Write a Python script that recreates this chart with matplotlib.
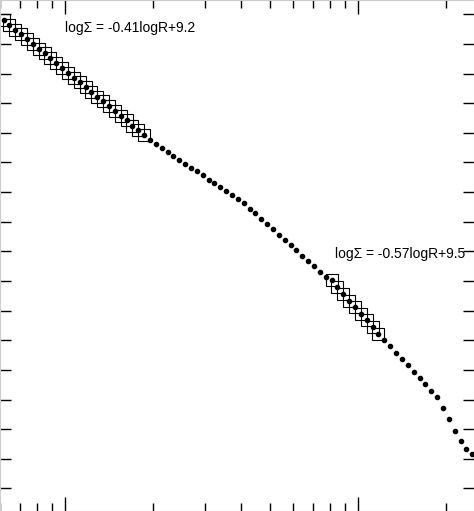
import matplotlib
matplotlib.use("Agg")
import matplotlib.pyplot as plt
import numpy as np
from matplotlib.ticker import LogLocator, MultipleLocator, NullFormatter

# radial profile: log R and log surface density
log_r = [-0.21, -0.19, -0.17, -0.15, -0.13, -0.11, -0.09, -0.07, -0.05, -0.03,
         -0.01, 0.01, 0.03, 0.05, 0.07, 0.09, 0.11, 0.13, 0.15, 0.17,
         0.19, 0.21, 0.23, 0.25, 0.27, 0.29, 0.31, 0.33, 0.35, 0.37,
         0.39, 0.41, 0.43, 0.45, 0.47, 0.49, 0.51, 0.53, 0.55, 0.57,
         0.59, 0.61, 0.63, 0.65, 0.67, 0.69, 0.71, 0.73, 0.75, 0.77,
         0.79, 0.81, 0.83, 0.85, 0.87, 0.89, 0.91, 0.93, 0.95, 0.97,
         0.99, 1.01, 1.03, 1.05, 1.07, 1.09, 1.11, 1.13, 1.15, 1.17,
         1.19, 1.21, 1.23, 1.25, 1.27, 1.29, 1.31, 1.33, 1.35, 1.37, 1.39]
log_sigma = [9.290, 9.282, 9.274, 9.266, 9.258, 9.250, 9.242, 9.234, 9.226, 9.218,
             9.209, 9.201, 9.193, 9.185, 9.177, 9.169, 9.161, 9.153, 9.145, 9.137,
             9.129, 9.121, 9.112, 9.104, 9.096, 9.088,
             9.081, 9.074, 9.068, 9.061, 9.054, 9.048, 9.041, 9.035, 9.028, 9.021,
             9.015, 9.008, 9.002, 8.995, 8.988,
             8.981, 8.972, 8.964, 8.955, 8.946, 8.937, 8.928, 8.919, 8.910, 8.902,
             8.893, 8.884, 8.875, 8.866, 8.857,
             8.851, 8.840, 8.828, 8.817, 8.806, 8.795, 8.784, 8.773, 8.761,
             8.751, 8.740, 8.729, 8.718, 8.708, 8.697, 8.686, 8.676, 8.665, 8.654,
             8.636, 8.618, 8.597, 8.580, 8.567, 8.558]
# points used in the two fits
fit_inner = list(range(0, 25))
fit_outer = list(range(56, 65))

r = 10 ** np.array(log_r)
s = np.array(log_sigma)

fig = plt.figure(figsize=(4.74, 5.11), dpi=100)
ax = fig.add_axes([0, 0, 1, 1])
ax.set_xscale("log")

ax.plot(r, s, "o", color="black", markersize=3, linestyle="none")
for idx in (fit_inner, fit_outer):
    ax.plot(r[idx], s[idx], "s", markerfacecolor="none", markeredgecolor="black",
            markersize=8, markeredgewidth=0.8, linestyle="none")

ax.text(1.0, 9.270, "logΣ = -0.41logR+9.2", fontsize=10, family="Liberation Sans")
ax.text(8.35, 8.888, "logΣ = -0.57logR+9.5", fontsize=10, family="Liberation Sans")

ax.set_xlim(10 ** -0.222, 10 ** 1.396)
ax.set_ylim(8.462, 9.324)
ax.yaxis.set_major_locator(MultipleLocator(0.05))
ax.xaxis.set_major_locator(LogLocator(base=10))
ax.xaxis.set_minor_locator(LogLocator(base=10, subs=np.arange(2, 10)))
ax.xaxis.set_major_formatter(NullFormatter())
ax.xaxis.set_minor_formatter(NullFormatter())
ax.yaxis.set_major_formatter(NullFormatter())
ax.tick_params(which="both", direction="in", top=True, right=True, width=1)
ax.tick_params(which="major", axis="x", length=10)
ax.tick_params(which="minor", axis="x", length=6)
ax.tick_params(axis="y", length=8)
for sp in ax.spines.values():
    sp.set_color("#cccccc")

fig.savefig("out.png", dpi=100)
